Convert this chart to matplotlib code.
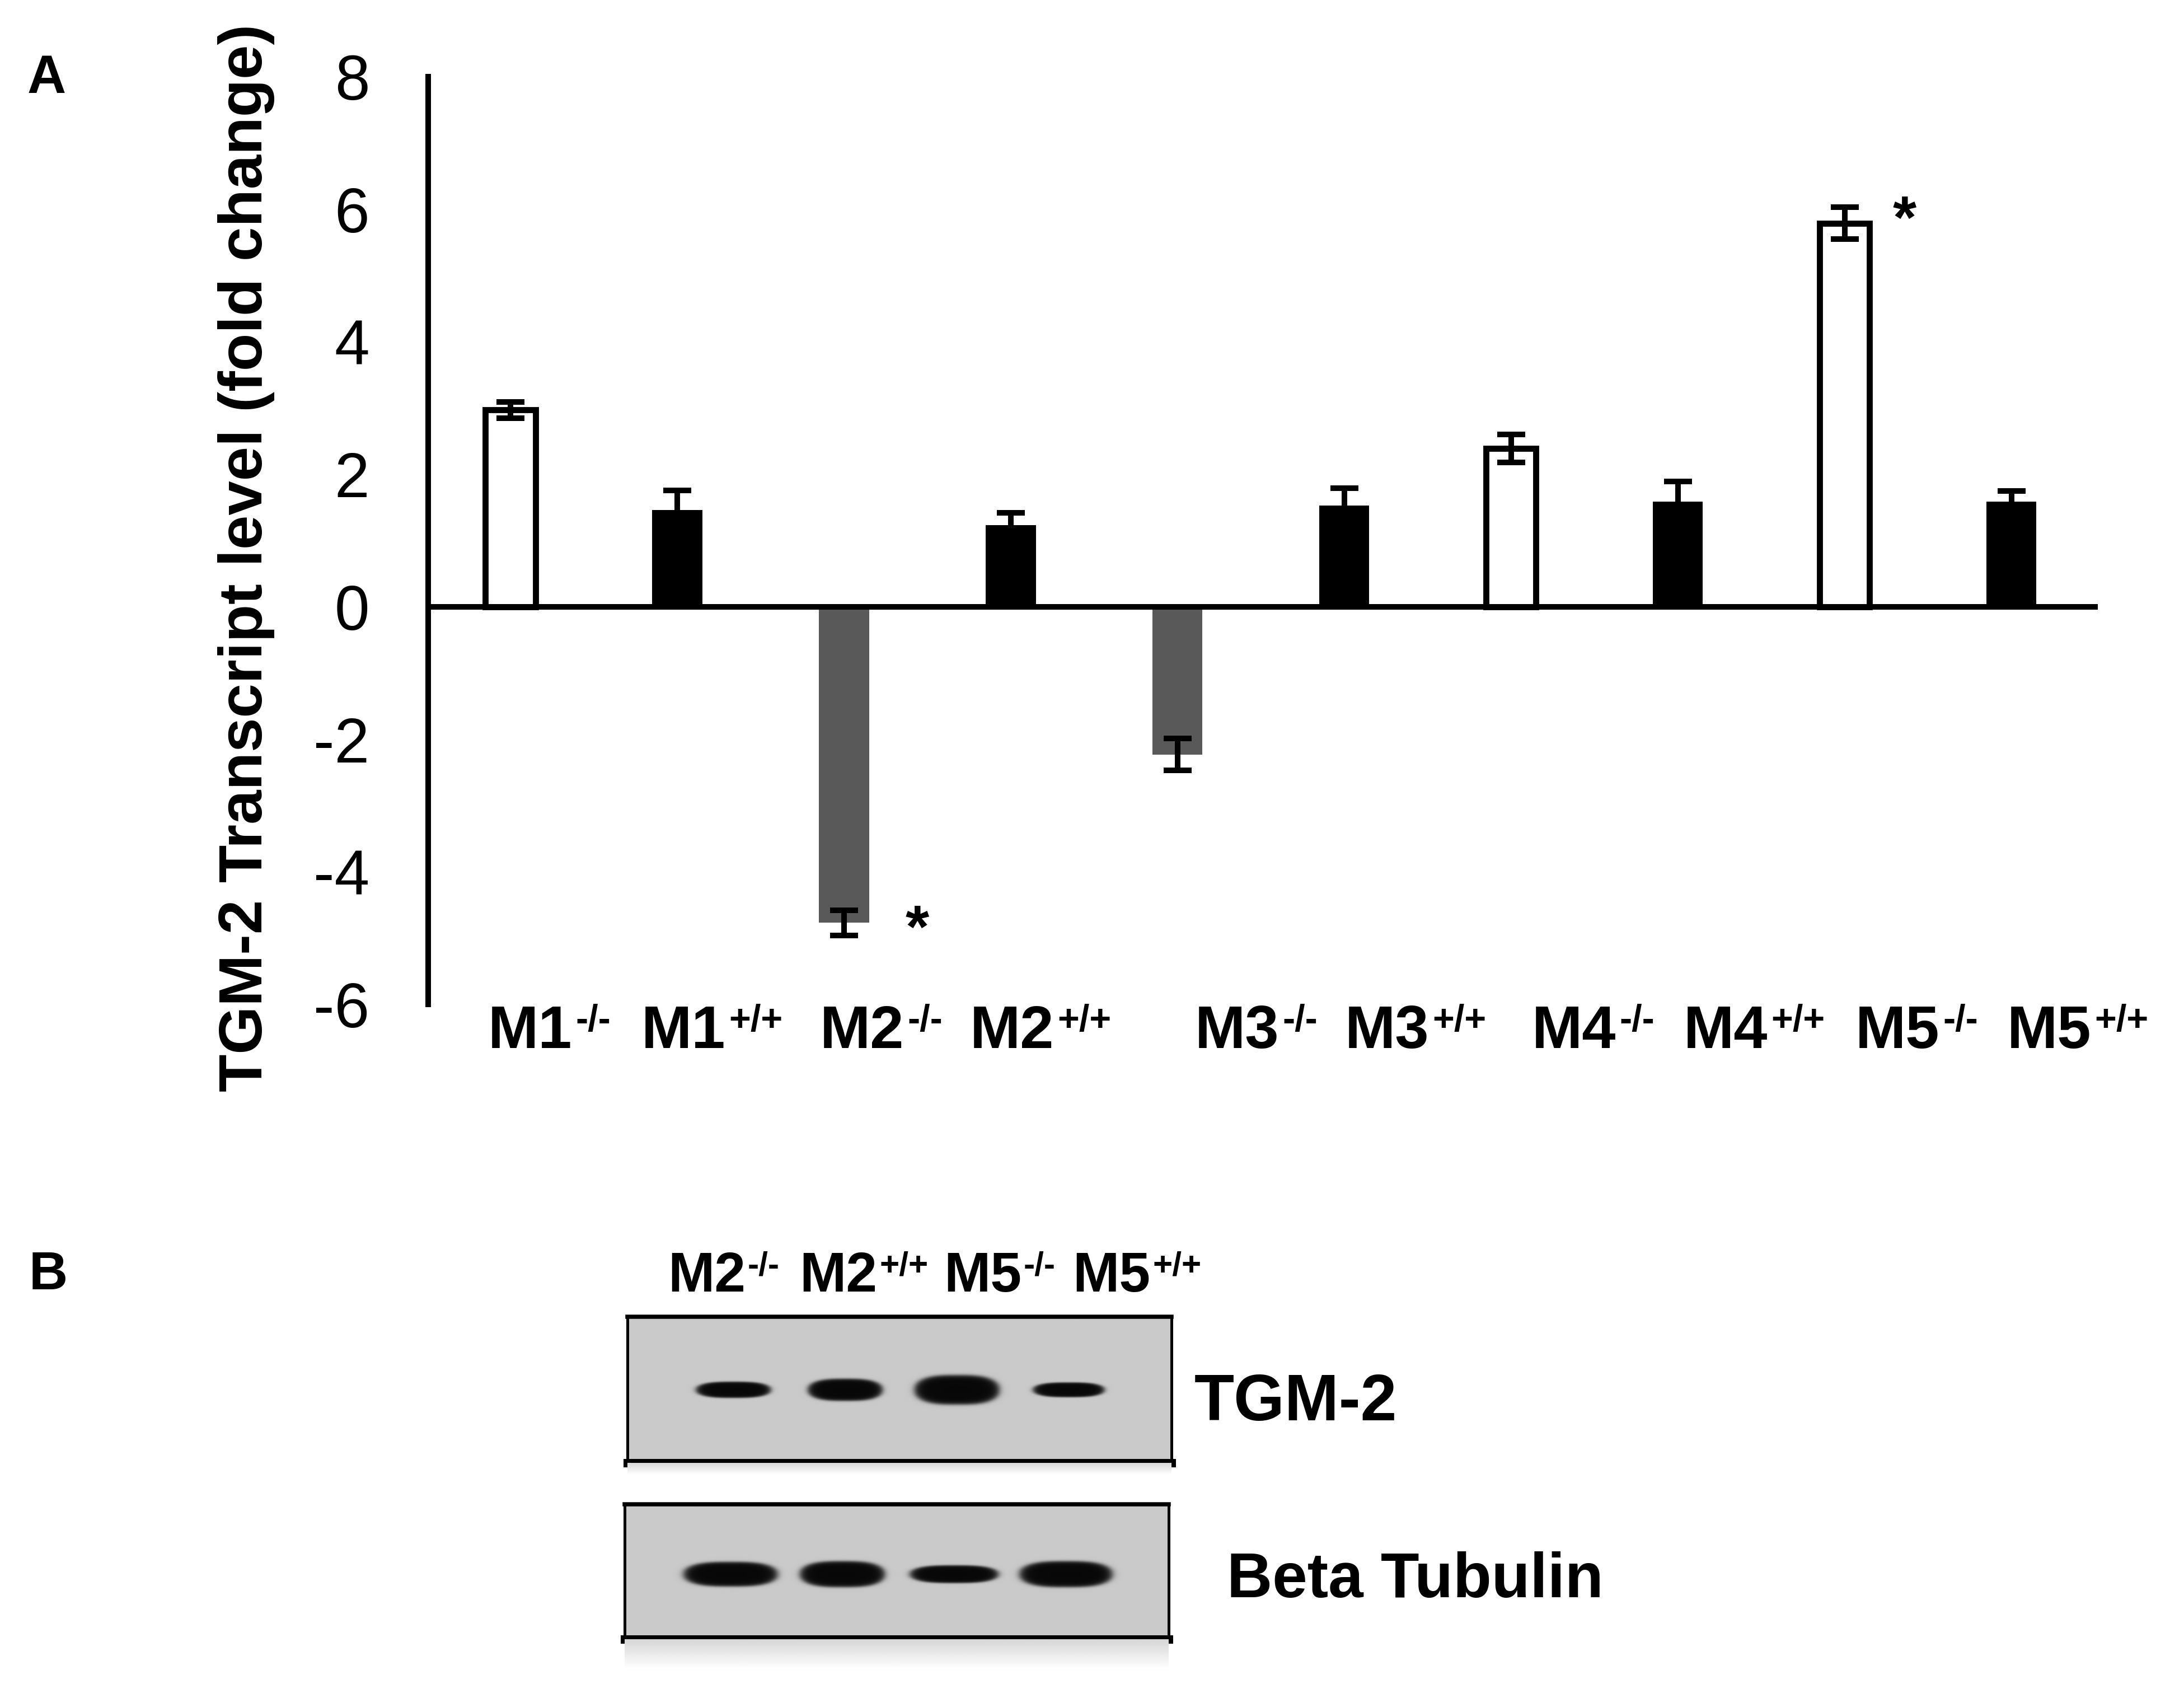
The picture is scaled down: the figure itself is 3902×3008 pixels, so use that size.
import matplotlib
matplotlib.use("Agg")
import matplotlib.pyplot as plt
import numpy as np
from matplotlib.transforms import offset_copy

plt.rcParams['font.family'] = ['Liberation Sans', 'DejaVu Sans']
plt.rcParams['axes.unicode_minus'] = False

# ---- panel A data ----
mice = ['M1', 'M1', 'M2', 'M2', 'M3', 'M3', 'M4', 'M4', 'M5', 'M5']
genotypes = ['-/-', '+/+', '-/-', '+/+', '-/-', '+/+', '-/-', '+/+', '-/-', '+/+']
fold_change = [2.97, 1.46, -4.77, 1.23, -2.23, 1.53, 2.39, 1.59, 5.79, 1.59]
fold_err = [0.12, 0.30, 0.19, 0.19, 0.24, 0.26, 0.21, 0.30, 0.24, 0.16]
significant = [False, False, True, False, False, False, False, False, True, False]
yticks = [-6, -4, -2, 0, 2, 4, 6, 8]

# ---- panel B data (western blot) ----
blot_mice = ['M2', 'M2', 'M5', 'M5']
blot_genotypes = ['-/-', '+/+', '-/-', '+/+']
tgm2_band_width = [0.66, 0.66, 0.75, 0.63]      # lane units
tgm2_band_height = [0.11, 0.15, 0.20, 0.10]     # fraction of blot height
tubulin_band_width = [0.83, 0.75, 0.78, 0.82]
tubulin_band_height = [0.18, 0.19, 0.13, 0.19]

W, H, DPI = 3902, 3008, 300


def fx(px):
    return px / W


def fy(py):
    return 1 - py / H


fig = plt.figure(figsize=(W / DPI, H / DPI), dpi=DPI)

# ---------------- panel A ----------------
ax = fig.add_axes([fx(764.5), fy(1794), 2978 / W, (1794 - 137) / H])
x = np.arange(len(fold_change))

fills, edges, lws = [], [], []
for g, v in zip(genotypes, fold_change):
    if g == '+/+':
        fills.append('black'); edges.append('black'); lws.append(0)
    elif v < 0:
        fills.append('#595959'); edges.append('#595959'); lws.append(0)
    else:
        fills.append('white'); edges.append('black'); lws.append(2.6)

ax.bar(x, fold_change, width=0.30, color=fills, edgecolor=edges,
       linewidth=lws, zorder=2)
ax.errorbar(x, fold_change, yerr=fold_err, fmt='none', ecolor='black',
            elinewidth=2.4, capsize=6, capthick=2.4, zorder=3)

ax.set_xlim(-0.495, 9.5)
ax.set_ylim(-6, 8)
ax.set_yticks(yticks)
ax.set_xticks([])
ax.tick_params(axis='y', length=0, pad=25, labelsize=27)
for s in ['top', 'right']:
    ax.spines[s].set_visible(False)
ax.spines['left'].set_linewidth(2.4)
ax.spines['bottom'].set_linewidth(2.4)
ax.spines['bottom'].set_position(('data', 0))
ax.spines['bottom'].set_zorder(4)

# category labels with superscripts
label_shift = [0.37, 0.29, 0.36, 0.26, 0.61, 0.51, 0.63, 0.54, 0.57, 0.48]
sup_tr = offset_copy(ax.transData, fig=fig, y=7.5, units='points')
for i, (m, g) in enumerate(zip(mice, genotypes)):
    xj = x[i] + label_shift[i]
    ax.text(xj, -6.66, m, ha='right', va='baseline', fontsize=26,
            fontweight='bold', clip_on=False)
    ax.text(xj + 0.02, -6.66, g, ha='left', va='baseline', fontsize=16,
            fontweight='bold', transform=sup_tr, clip_on=False)

# significance stars
star_offset = {2: (0.44, -0.37), 8: (0.36, -0.22)}
for i, sig in enumerate(significant):
    if sig:
        dx, dy = star_offset[i]
        ax.text(x[i] + dx, fold_change[i] + dy, '*', ha='center',
                va='baseline', fontsize=26, fontweight='bold')

fig.text(fx(440), fy(996), 'TGM-2 Transcript level (fold change)',
         rotation=90, ha='center', va='center', fontsize=26.5,
         fontweight='bold')
fig.text(fx(49), fy(166), 'A', ha='left', va='baseline', fontsize=23,
         fontweight='bold')

# ---------------- panel B ----------------
fig.text(fx(52), fy(2303), 'B', ha='left', va='baseline', fontsize=23,
         fontweight='bold')

header_junction = [1332, 1567, 1825, 2055]
fig_sup = offset_copy(fig.transFigure, fig=fig, y=7, units='points')
for j, m, g in zip(header_junction, blot_mice, blot_genotypes):
    fig.text(fx(j), fy(2307), m, ha='right', va='baseline', fontsize=24,
             fontweight='bold')
    fig.text(fx(j + 4), fy(2307), g, ha='left', va='baseline', fontsize=14.5,
             fontweight='bold', transform=fig_sup)


def draw_blot(box, widths, heights, yc, strip_end):
    x0, y0, x1, y1 = box
    bax = fig.add_axes([fx(x0), fy(y1), (x1 - x0) / W, (y1 - y0) / H])
    xl = (-0.945, 3.915)
    xs = np.linspace(xl[0], xl[1], 700)
    ys = np.linspace(0, 1, 200)
    gx, gy = np.meshgrid(xs, ys)
    dark = np.zeros_like(gx)
    for lane, (bw, bh) in enumerate(zip(widths, heights)):
        d = (np.abs(gx - lane) / (bw / 2)) ** 3 + \
            (np.abs(gy - yc) / (bh / 2)) ** 2.2
        dark = np.maximum(dark, 1 / (1 + np.exp((d - 1) / 0.15)))
    img = 0.79 * (1 - dark) + 0.03 * dark
    bax.imshow(img, cmap='gray', vmin=0, vmax=1, origin='lower',
               extent=[xl[0], xl[1], 0, 1], aspect='auto',
               interpolation='bilinear')
    bax.set_xlim(xl)
    bax.set_ylim(0, 1)
    bax.set_xticks([])
    bax.set_yticks([])
    bax.spines['top'].set_linewidth(1.8)
    bax.spines['left'].set_linewidth(1.2)
    bax.spines['right'].set_linewidth(1.2)
    bax.spines['bottom'].set_linewidth(3.6)
    # faded strip under the blot
    sax = fig.add_axes([fx(x0), fy(strip_end), (x1 - x0) / W,
                        (strip_end - y1) / H])
    grad = np.linspace(1.0, 0.84, 50).reshape(-1, 1)
    sax.imshow(grad, cmap='gray', vmin=0, vmax=1, aspect='auto',
               origin='lower', extent=[0, 1, 0, 1])
    sax.axis('off')


draw_blot((1121, 2352, 2093, 2613), tgm2_band_width, tgm2_band_height,
          0.50, 2634)
draw_blot((1116, 2687, 2088, 2928), tubulin_band_width, tubulin_band_height,
          0.48, 2981)

fig.text(fx(2134), fy(2537), 'TGM-2', ha='left', va='baseline', fontsize=28,
         fontweight='bold')
fig.text(fx(2192), fy(2853), 'Beta Tubulin', ha='left', va='baseline',
         fontsize=27, fontweight='bold')

fig.savefig('out.png', dpi=DPI, facecolor='white')
